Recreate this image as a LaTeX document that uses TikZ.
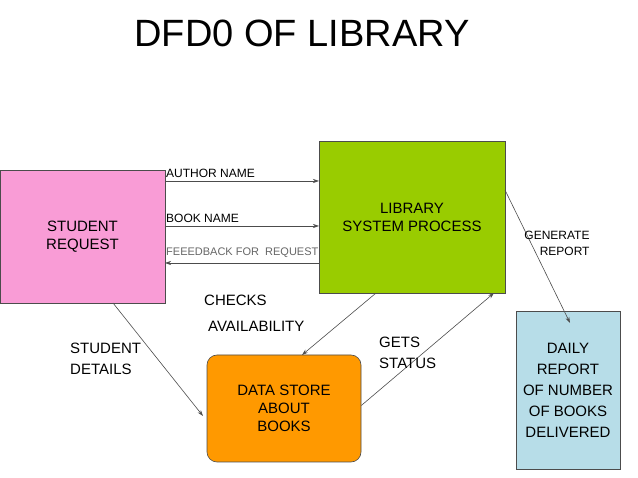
\documentclass[tikz,border=0pt]{standalone}
\usepackage{fontspec}
\setmainfont{Liberation Sans}
\usetikzlibrary{arrows.meta}
\definecolor{pinkbox}{HTML}{F99CD6}
\definecolor{greenbox}{HTML}{99CC00}
\definecolor{orangebox}{HTML}{FF9900}
\definecolor{bluebox}{HTML}{B7DDE8}
\begin{document}
\begin{tikzpicture}[x=1pt,y=-1pt,
  box/.style={draw=black!70,line width=0.6pt,align=center,font=\fontsize{15}{18}\selectfont,inner sep=0pt},
  flow/.style={draw=black!70,line width=0.6pt,-{Stealth[length=6pt,width=4pt]}},
  lab/.style={font=\fontsize{12}{14}\selectfont,anchor=west,inner sep=0pt},
  big/.style={font=\fontsize{15}{21}\selectfont,align=left,anchor=north west,inner sep=0pt}]
\useasboundingbox (0,0) rectangle (638,478);
\node[font=\fontsize{38}{40}\selectfont] (title) at (302,33) {DFD0 OF LIBRARY};
\node[box,fill=pinkbox,minimum width=165pt,minimum height=133pt] (sr) at (82.5,236.5) {STUDENT\\REQUEST};
\node[box,fill=greenbox,minimum width=186pt,minimum height=152pt] (lib) at (412,217) {LIBRARY\\SYSTEM PROCESS};
\node[box,fill=orangebox,rounded corners=10pt,minimum width=154pt,minimum height=107pt] (ds) at (284,408.5) {DATA STORE\\ABOUT\\BOOKS};
\node[box,fill=bluebox,minimum width=104pt,minimum height=158pt,font=\fontsize{15}{21}\selectfont] (dr) at (568,390) {DAILY\\REPORT\\OF NUMBER\\OF BOOKS\\DELIVERED};
\coordinate (a1) at (165,181); \coordinate (a2) at (319,181);
\coordinate (b1) at (165,226); \coordinate (b2) at (319,226);
\coordinate (f1) at (319,263); \coordinate (f2) at (165,263);
\draw[flow] (a1) -- (a2);
\draw[flow] (b1) -- (b2);
\draw[flow] (f1) -- (f2);
\draw[flow] (lib.south west) ++(57,0) coordinate (c1) -- (302,355) coordinate (c2);
\draw[flow] (ds.east) ++(0,-3) -- (494,293);
\draw[flow] (113,303) -- (203,416);
\draw[flow] (505,190) -- (570,323);
\node[lab] (l1) at (166,173) {AUTHOR NAME};
\node[lab] (l2) at (166,218) {BOOK NAME};
\node[lab,text=black!60,font=\fontsize{11}{13}\selectfont] (l3) at (166,253) {FEEEDBACK FOR\ \ REQUEST};
\node[font=\fontsize{15}{18}\selectfont,anchor=west,inner sep=0pt] (l4) at (204,300) {CHECKS};
\node[font=\fontsize{15}{18}\selectfont,anchor=west,inner sep=0pt] (l5) at (208,326) {AVAILABILITY};
\node[big] (l6) at (70,343) {STUDENT\\DETAILS};
\node[big] (l7) at (379,337) {GETS\\STATUS};
\node[font=\fontsize{12}{16}\selectfont,align=right,inner sep=0pt] (l8) at (557,243) {GENERATE\\REPORT};
\end{tikzpicture}
\end{document}
